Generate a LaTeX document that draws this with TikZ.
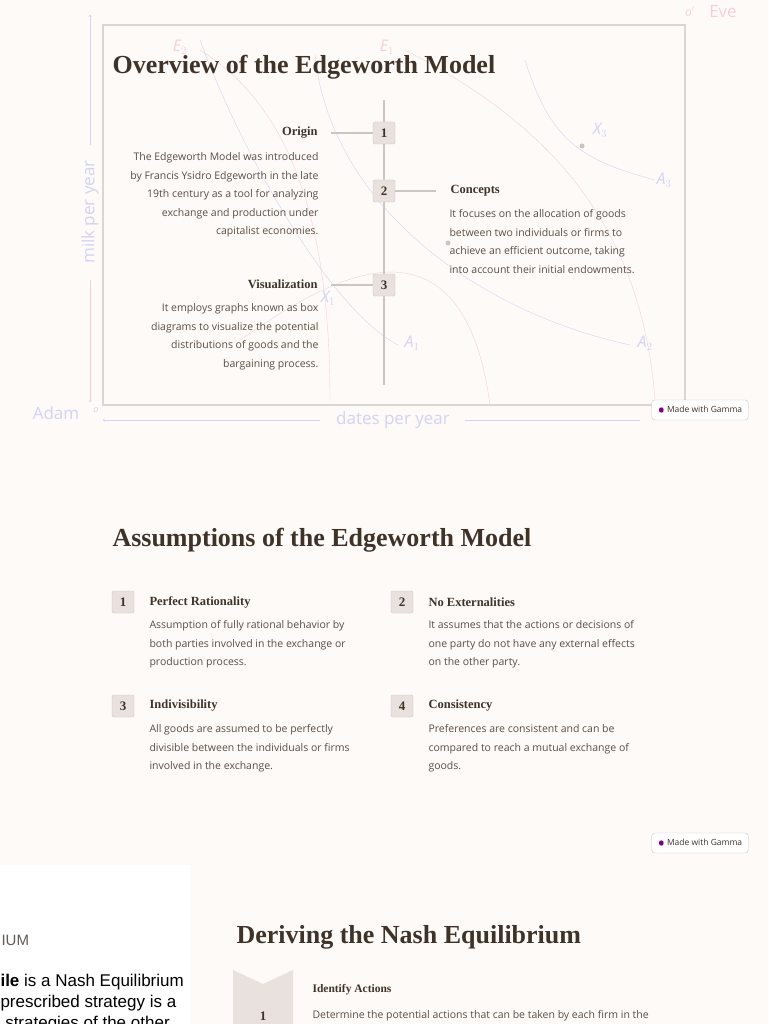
\documentclass[tikz,border=0pt]{standalone}
\usepackage{fontspec}
\setmainfont{Open Sans}
\newfontfamily\hd{Liberation Serif}
\newfontfamily\ar{Liberation Sans}
\definecolor{bg}{HTML}{FDFAF7}
\definecolor{ink}{HTML}{3F3329}
\definecolor{txt}{HTML}{5A4E45}
\definecolor{boxc}{HTML}{E9E1DD}
\definecolor{lnc}{HTML}{CDC5C0}
\definecolor{bl}{HTML}{D3D3F5}
\definecolor{pk}{HTML}{F5D0DC}
\newcommand{\gem}{\tikz[baseline=-0.6ex]\fill[violet] (0,4pt)--(3.5pt,0)--(0,-4pt)--(-3.5pt,0)--cycle;}
\tikzset{
 numbox/.style={draw=lnc,fill=boxc,rounded corners=2pt,minimum width=22pt,minimum height=22pt,font=\hd\bfseries\fontsize{13}{13}\selectfont,text=ink},
 head/.style={font=\hd\bfseries\fontsize{12.5}{14}\selectfont,text=ink},
 body/.style={font=\fontsize{10.5}{18.5}\selectfont,text=txt},
 ttl/.style={font=\hd\bfseries\fontsize{26}{28}\selectfont,text=ink,anchor=west},
 gamma/.style={draw=lnc,fill=white,rounded corners=3pt,font=\fontsize{8.5}{9}\selectfont,text=ink,minimum height=20pt,inner xsep=6pt},
 axl/.style={font=\fontsize{17}{17}\selectfont},
 cl/.style={font=\itshape\fontsize{16}{16}\selectfont},
}
\begin{document}
\begin{tikzpicture}[x=1pt,y=-1pt]
\useasboundingbox (0,0) rectangle (768,1024);
\fill[bg] (0,0) rectangle (768,1024);
\fill[white] (0,865) rectangle (190,1024);
% background Edgeworth box
\draw[lnc!70,line width=1.2pt] (103,25) rectangle (685,405);
\draw[bl,->] (90,145) -- (90,15);
\draw[pk,->] (90,280) -- (90,402);
\draw[bl,<-] (103,420) -- (320,420);
\draw[bl] (465,420) -- (640,420);
\node[axl,text=bl,rotate=90] (my) at (90,212) {milk per year};
\node[axl,text=bl] (dy) at (393,420) {dates per year};
\node[axl,text=bl] (adam) at (56,413) {Adam};
\node[font=\itshape\fontsize{9}{9}\selectfont,text=bl] (o) at (96,410) {o};
\node[axl,text=pk] (eve) at (723,12) {Eve};
\node[font=\itshape\fontsize{12}{12}\selectfont,text=pk] (o2) at (690,12) {o$'$};
\draw[pk] (200,50) .. controls (280,100) and (330,200) .. (330,400);
\draw[pk] (405,50) .. controls (520,110) and (640,200) .. (655,400);
\draw[pk] (240,340) .. controls (300,300) and (460,180) .. (490,405);
\draw[bl] (200,40) .. controls (240,150) and (330,310) .. (398,345);
\draw[bl] (315,55) .. controls (330,200) and (470,310) .. (630,345);
\draw[bl] (525,60) .. controls (550,140) and (580,160) .. (655,180);
\fill[lnc] (582,146) circle (2.5pt);
\fill[lnc] (448,243) circle (2.5pt);
\node[cl,text=pk] (e2) at (180,47) {E$_2$};
\node[cl,text=pk] (e1) at (387,47) {E$_1$};
\node[cl,text=bl] (x3) at (600,130) {X$_3$};
\node[cl,text=bl] (a3) at (664,180) {A$_3$};
\node[cl,text=bl] (x1) at (328,298) {X$_1$};
\node[cl,text=bl] (a1) at (412,343) {A$_1$};
\node[cl,text=bl] (a2) at (645,343) {A$_2$};
% slide 1
\node[ttl] (t1) at (109,67) {Overview of the Edgeworth Model};
\draw[lnc,line width=1.2pt] (384,100) -- (384,385);
\node[numbox] (n1) at (384,133) {1};
\node[numbox] (n2) at (384,191) {2};
\node[numbox] (n3) at (384,285) {3};
\node[head,anchor=east] (h1) at (321,133) {Origin};
\draw[lnc,line width=1.2pt] (331,133) -- (n1.west);
\node[body,anchor=north east,align=right] (b1) at (322,149) {The Edgeworth Model was introduced\\by Francis Ysidro Edgeworth in the late\\19th century as a tool for analyzing\\exchange and production under\\capitalist economies.};
\node[head,anchor=west] (h2) at (447,191) {Concepts};
\draw[lnc,line width=1.2pt] (n2.east) -- (436,191);
\node[body,anchor=north west,align=left] (b2) at (446,206) {It focuses on the allocation of goods\\between two individuals or firms to\\achieve an efficient outcome, taking\\into account their initial endowments.};
\node[head,anchor=east] (h3) at (321,284) {Visualization};
\draw[lnc,line width=1.2pt] (331,285) -- (n3.west);
\node[body,anchor=north east,align=right] (b3) at (322,300) {It employs graphs known as box\\diagrams to visualize the potential\\distributions of goods and the\\bargaining process.};
\node[gamma] (g1) at (700,410) {\gem\ Made with Gamma};
% slide 2
\node[ttl] (t2) at (109,540) {Assumptions of the Edgeworth Model};
\node[numbox] (m1) at (123,602) {1};
\node[head,anchor=west] (k1) at (146,602) {Perfect Rationality};
\node[body,anchor=north west,align=left] (c1) at (146,617) {Assumption of fully rational behavior by\\both parties involved in the exchange or\\production process.};
\node[numbox] (m2) at (402,602) {2};
\node[head,anchor=west] (k2) at (425,602) {No Externalities};
\node[body,anchor=north west,align=left] (c2) at (425,617) {It assumes that the actions or decisions of\\one party do not have any external effects\\on the other party.};
\node[numbox] (m3) at (123,706) {3};
\node[head,anchor=west] (k3) at (146,706) {Indivisibility};
\node[body,anchor=north west,align=left] (c3) at (146,721) {All goods are assumed to be perfectly\\divisible between the individuals or firms\\involved in the exchange.};
\node[numbox] (m4) at (402,706) {4};
\node[head,anchor=west] (k4) at (425,706) {Consistency};
\node[body,anchor=north west,align=left] (c4) at (425,721) {Preferences are consistent and can be\\compared to reach a mutual exchange of\\goods.};
\node[gamma] (g2) at (700,843) {\gem\ Made with Gamma};
% slide 3
\node[ttl] (t3) at (233,937) {Deriving the Nash Equilibrium};
\fill[boxc] (233,970) -- (263,984) -- (293,970) -- (293,1024) -- (233,1024) -- cycle;
\node[font=\hd\bfseries\fontsize{13}{13}\selectfont,text=ink] (p1) at (263,1016) {1};
\node[head,anchor=west,font=\hd\bfseries\fontsize{11.5}{12}\selectfont] (i1) at (309,990) {Identify Actions};
\node[body,anchor=west] (j1) at (309,1016) {Determine the potential actions that can be taken by each firm in the};
% left fragment
\node[font=\ar\fontsize{15}{15}\selectfont,text=ink!80,anchor=west] (f0) at (-2,940) {IUM};
\begin{scope}
\clip (0,865) rectangle (190,1024);
\node[font=\ar\fontsize{17}{21}\selectfont,text=black,anchor=north west,align=left] (f1) at (-3,971) {\textbf{ile} is a Nash Equilibrium\\prescribed strategy is a\\ \ strategies of the other};
\end{scope}
\end{tikzpicture}
\end{document}
